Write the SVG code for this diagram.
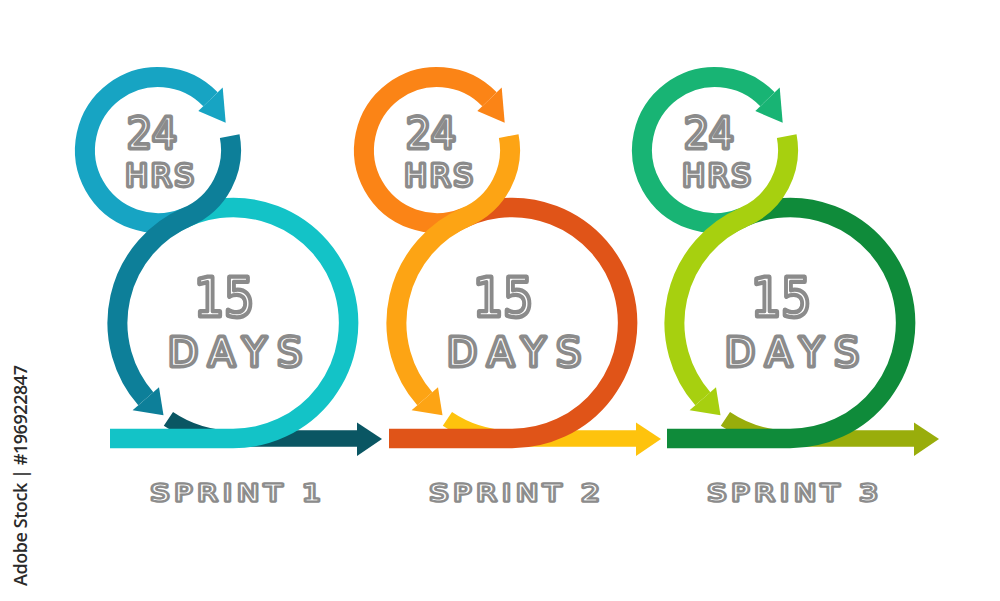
<svg xmlns="http://www.w3.org/2000/svg" xmlns:xlink="http://www.w3.org/1999/xlink" width="1000" height="601" viewBox="0 0 1000 601">
<style>
.t{font-family:"DejaVu Sans",sans-serif;font-weight:normal;text-anchor:middle}
.o{fill:#8b8b8b;stroke:#8b8b8b;stroke-linejoin:round}
.i{fill:#ffffff;stroke:#8b8b8b;stroke-linejoin:round}
.s24{font-size:42px}
.shrs{font-size:29.6px}
.s15{font-size:53px}
.sdays{font-size:39px}
.ssp{font-size:23.3px}
.wm{font-family:"Open Sans","Liberation Sans",sans-serif;font-size:18px;font-weight:600;fill:#2a2a2a}
.a1{fill:#17a4c3;stroke:#17a4c3}.b1{fill:#0d7f99;stroke:#0d7f99}.c1{fill:#13c3c7;stroke:#13c3c7}.d1{fill:#0a5663;stroke:#0a5663}
.a2{fill:#fb8416;stroke:#fb8416}.b2{fill:#fda414;stroke:#fda414}.c2{fill:#e05418;stroke:#e05418}.d2{fill:#fec30d;stroke:#fec30d}
.a3{fill:#18b474;stroke:#18b474}.b3{fill:#a7d00f;stroke:#a7d00f}.c3{fill:#0f8b3a;stroke:#0f8b3a}.d3{fill:#99ad0b;stroke:#99ad0b}
</style>
<defs>
<g id="pSmall">
<path fill="none" stroke-width="20" d="M 185.3 217.7 A 73 73 0 1 1 210.5 99.3"/>
<polygon stroke="none" points="198.3,111.1 222.7,87.5 225.7,122.7"/>
</g>
<g id="pDark">
<path fill="none" stroke-width="16.5" d="M 168.4 418.8 A 115.5 115.5 0 0 0 233 438.5 L 358 438.5"/>
<polygon stroke="none" points="357,422.5 382,439 357,456"/>
</g>
<path id="pBig" fill="none" stroke-width="19.5" d="M 171.8 225.1 A 115.5 115.5 0 1 1 233 438.5 L 110 438.5"/>
<g id="pS">
<path fill="none" stroke-width="20" d="M 229.7 136.1 A 73 73 0 0 1 187.0 217.0 A 115.5 115.5 0 0 0 145.8 398.8"/>
<polygon stroke="none" points="159.0,387.3 132.6,410.3 163.5,415.2"/>
</g>
<g id="labels">
<text class="t o s24" x="152" y="147.8" stroke-width="4.8" textLength="50" lengthAdjust="spacingAndGlyphs">24</text>
<text class="t i s24" x="152" y="147.8" stroke-width="2.7" textLength="50" lengthAdjust="spacingAndGlyphs">24</text>
<text class="t o shrs" x="159.5" y="185.8" stroke-width="4.8" textLength="68">HRS</text>
<text class="t i shrs" x="159.5" y="185.8" stroke-width="1.5" textLength="68">HRS</text>
<text class="t o s15" x="224.3" y="315.8" stroke-width="5" textLength="60" lengthAdjust="spacingAndGlyphs">15</text>
<text class="t i s15" x="224.3" y="315.8" stroke-width="3.6" textLength="60" lengthAdjust="spacingAndGlyphs">15</text>
<text class="t o sdays" x="235" y="365.7" stroke-width="5" textLength="134">DAYS</text>
<text class="t i sdays" x="235" y="365.7" stroke-width="2.3" textLength="134">DAYS</text>
</g>
</defs>
<rect width="1000" height="601" fill="#ffffff"/>
<g id="sprint-1">
<use href="#pSmall" class="a1"/>
<use href="#pDark" class="d1"/>
<use href="#pBig" class="c1"/>
<use href="#pS" class="b1"/>
<use href="#labels"/>
<g transform="translate(235.7,501) scale(1.25,1)">
<text class="t o ssp" x="0" y="0" stroke-width="3.6" textLength="136">SPRINT 1</text>
<text class="t i ssp" x="0" y="0" stroke-width="0.9" textLength="136">SPRINT 1</text>
</g>
</g>
<g id="sprint-2" transform="translate(279,0)">
<use href="#pSmall" class="a2"/>
<use href="#pDark" class="d2"/>
<use href="#pBig" class="c2"/>
<use href="#pS" class="b2"/>
<use href="#labels"/>
<g transform="translate(235.7,501) scale(1.25,1)">
<text class="t o ssp" x="0" y="0" stroke-width="3.6" textLength="136">SPRINT 2</text>
<text class="t i ssp" x="0" y="0" stroke-width="0.9" textLength="136">SPRINT 2</text>
</g>
</g>
<g id="sprint-3" transform="translate(557,0)">
<use href="#pSmall" class="a3"/>
<use href="#pDark" class="d3"/>
<use href="#pBig" class="c3"/>
<use href="#pS" class="b3"/>
<use href="#labels"/>
<g transform="translate(235.7,501) scale(1.25,1)">
<text class="t o ssp" x="0" y="0" stroke-width="3.6" textLength="136">SPRINT 3</text>
<text class="t i ssp" x="0" y="0" stroke-width="0.9" textLength="136">SPRINT 3</text>
</g>
</g>
<text class="wm" transform="translate(27,586) rotate(-90)" textLength="221">Adobe Stock | #196922847</text>
</svg>
